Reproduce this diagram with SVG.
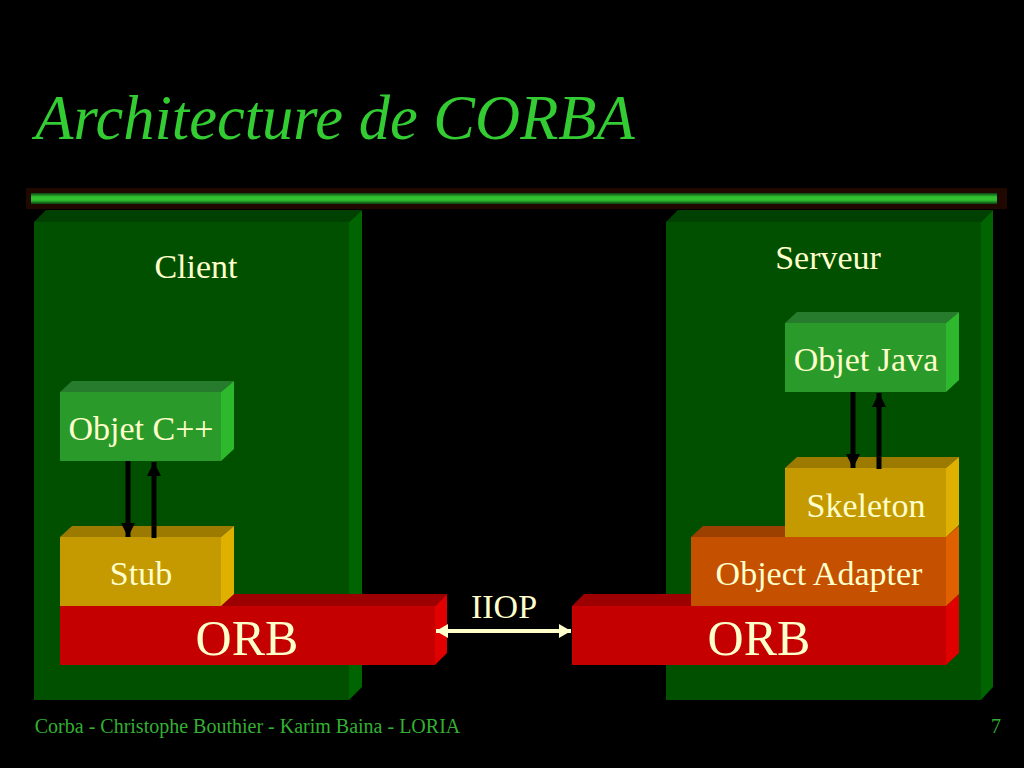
<svg xmlns="http://www.w3.org/2000/svg" width="1024" height="768" viewBox="0 0 1024 768">
<defs>
<linearGradient id="bar" x1="0" y1="0" x2="0" y2="1"><stop offset="0" stop-color="#0a4010"/><stop offset="0.35" stop-color="#30c030"/><stop offset="0.65" stop-color="#30c030"/><stop offset="1" stop-color="#0a4010"/></linearGradient>
<marker id="blk" markerUnits="userSpaceOnUse" markerWidth="16" markerHeight="16" refX="14" refY="7" orient="auto-start-reverse"><path d="M0 0L14 7L0 14Z" fill="#000"/></marker>
<marker id="crm" markerUnits="userSpaceOnUse" markerWidth="14" markerHeight="16" refX="12" refY="7" orient="auto-start-reverse"><path d="M0 0L12 7L0 14Z" fill="#ffffcc"/></marker>
</defs>
<style>
text{font-family:"Liberation Serif","Times New Roman",serif;fill:#ffffcc;text-anchor:middle}
.l{font-size:34px}.b{font-size:50px}
.bk{fill:#005000}.bkT{fill:#004000}.bkS{fill:#006400}
.g{fill:#2a9a2a}.gT{fill:#267c2c}.gS{fill:#2eb82e}
.y{fill:#c49a00}.yT{fill:#9c7a00}.yS{fill:#e0b000}
.o{fill:#c45000}.oT{fill:#9c4000}.oS{fill:#e06000}
.r{fill:#c40000}.rT{fill:#9c0000}.rS{fill:#e00000}
.a{stroke:#000;stroke-width:5;fill:none}
.f{font-size:20px;fill:#33b033}
</style>
<rect width="1024" height="768" fill="#000"/>
<text x="335" y="139" style="font-size:62.5px;font-style:italic;fill:#33cc33">Architecture de CORBA</text>
<rect x="26" y="188" width="981" height="21" fill="#200800"/>
<rect x="31" y="193" width="966" height="11" fill="url(#bar)"/>
<g id="client"><rect x="34" y="222" width="315" height="478" class="bk"/><path d="M34 222L46 210H362L349 222Z" class="bkT"/><path d="M349 222L362 210V687L349 700Z" class="bkS"/><text x="196" y="278" class="l">Client</text></g>
<g id="serveur"><rect x="666" y="222" width="315" height="478" class="bk"/><path d="M666 222L678 210H993L981 222Z" class="bkT"/><path d="M981 222L993 210V687L981 700Z" class="bkS"/><text x="828" y="269" class="l">Serveur</text></g>
<g id="orb-client"><rect x="60" y="606" width="375" height="59" class="r"/><path d="M60 606L72 594H447L435 606Z" class="rT"/><path d="M435 606L447 594V653L435 665Z" class="rS"/><text x="247" y="655" class="b">ORB</text></g>
<g id="orb-server"><rect x="572" y="606" width="374" height="59" class="r"/><path d="M572 606L584 594H959L946 606Z" class="rT"/><path d="M946 606L959 594V653L946 665Z" class="rS"/><text x="759" y="655" class="b">ORB</text></g>
<g id="stub"><rect x="60" y="537" width="161" height="69" class="y"/><path d="M60 537L72 526H234L221 537Z" class="yT"/><path d="M221 537L234 526V594L221 606Z" class="yS"/><text x="141" y="585" class="l">Stub</text></g>
<g id="objet-cpp"><rect x="60" y="392" width="161" height="69" class="g"/><path d="M60 392L72 381H234L221 392Z" class="gT"/><path d="M221 392L234 381V449L221 461Z" class="gS"/><text x="141" y="440" class="l">Objet C++</text></g>
<g id="object-adapter"><rect x="691" y="537" width="255" height="69" class="o"/><path d="M691 537L703 526H959L946 537Z" class="oT"/><path d="M946 537L959 526V594L946 606Z" class="oS"/><text x="819" y="585" class="l">Object Adapter</text></g>
<g id="skeleton"><rect x="785" y="468" width="161" height="69" class="y"/><path d="M785 468L797 457H959L946 468Z" class="yT"/><path d="M946 468L959 457V525L946 537Z" class="yS"/><text x="866" y="517" class="l">Skeleton</text></g>
<g id="objet-java"><rect x="785" y="323" width="161" height="69" class="g"/><path d="M785 323L797 312H959L946 323Z" class="gT"/><path d="M946 323L959 312V380L946 392Z" class="gS"/><text x="866" y="371" class="l">Objet Java</text></g>
<g id="connectors">
<line x1="128" y1="461" x2="128" y2="537" class="a" marker-end="url(#blk)"/>
<line x1="154" y1="538" x2="154" y2="462" class="a" marker-end="url(#blk)"/>
<line x1="853" y1="392" x2="853" y2="468" class="a" marker-end="url(#blk)"/>
<line x1="879" y1="469" x2="879" y2="393" class="a" marker-end="url(#blk)"/>
<line x1="436" y1="631" x2="571" y2="631" stroke="#ffffcc" stroke-width="4" marker-start="url(#crm)" marker-end="url(#crm)"/>
</g>
<text x="504" y="618" class="l">IIOP</text>
<text x="247.500" y="733" class="f">Corba - Christophe Bouthier - Karim Baina - LORIA</text>
<text x="996" y="733" class="f">7</text>
</svg>
